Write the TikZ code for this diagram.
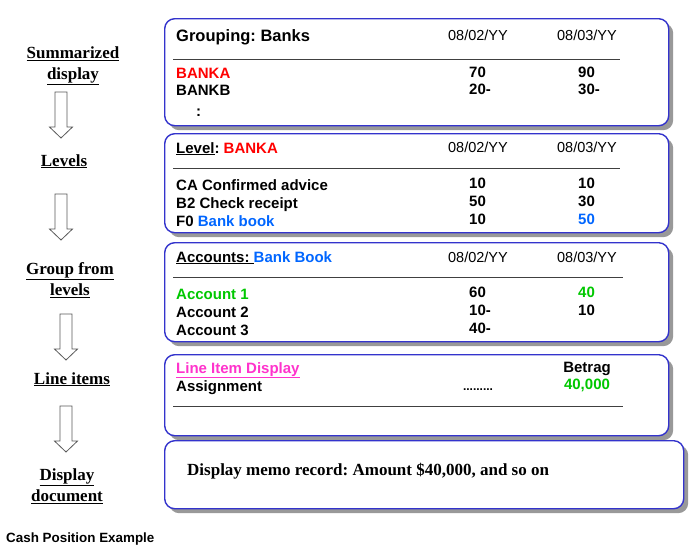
\documentclass[tikz,border=0pt]{standalone}
\usepackage{fontspec}
\setmainfont{Liberation Sans}
\newfontfamily\labelserif{Liberation Serif}
\usetikzlibrary{shadows}
\frenchspacing
\definecolor{frameblue}{RGB}{51,51,204}
\definecolor{shadowgray}{RGB}{153,153,153}
\definecolor{bankblue}{RGB}{0,102,255}
\definecolor{accgreen}{RGB}{0,200,0}
\definecolor{itemmagenta}{RGB}{255,51,204}

\begin{document}
\begin{tikzpicture}[x=1pt, y=-1pt,
    panel/.style={draw=frameblue, line width=1.4pt, rounded corners=10pt, fill=white,
                  anchor=north west, inner sep=0pt,
                  drop shadow={shadow xshift=4.5pt, shadow yshift=-4.5pt, fill=shadowgray, opacity=1}},
    stage/.style={font=\labelserif\bfseries\fontsize{17}{21}\selectfont, align=center, inner sep=0pt},
    row/.style={font=\bfseries\fontsize{15}{18}\selectfont, anchor=base west, inner sep=0pt},
    date/.style={font=\fontsize{14.5}{17}\selectfont, anchor=base, inner sep=0pt},
    sep/.style={draw=black!75, line width=0.9pt},
    blockdown/.pic={\draw[line width=0.8pt, draw=black!65, fill=white]
        (-6,0) -- (-6,35) -- (-11.5,35) -- (0,46) -- (11.5,35) -- (6,35) -- (6,0) -- cycle;}]
  \useasboundingbox (0,0) rectangle (691,552);

  % left column
  \node[stage] (summ) at (73,66) {\underline{Summarized}\\\underline{display}};
  \node[stage, anchor=base] (levels) at (64,166) {\underline{Levels}};
  \node[stage] (group) at (70,280) {\underline{Group from}\\\underline{levels}};
  \node[stage, anchor=base] (items) at (72,384) {\underline{Line items}};
  \node[stage] (docu) at (67,486) {\underline{Display}\\\underline{document}};
  \pic at (61,92)  {blockdown};
  \pic at (61,194) {blockdown};
  \pic at (66,314) {blockdown};
  \pic at (66,406) {blockdown};

  % grouping
  \node[panel, minimum width=504pt, minimum height=107pt] (grp) at (164,18) {};
  \node[row, font=\bfseries\fontsize{16.5}{20}\selectfont] (grptitle) at (176,41) {Grouping: Banks};
  \node[date] (grpd1) at (478,40) {08/02/YY};
  \node[date] (grpd2) at (587,40) {08/03/YY};
  \draw[sep] (173,59) -- (620,59);
  \node[row, text=red] (banka) at (176,78) {BANKA};
  \node[row] (bankb) at (176,95) {BANKB};
  \node[row] (more) at (196,116) {:};
  \node[row] (banka1) at (469,77) {70};
  \node[row] (banka2) at (578,77) {90};
  \node[row] (bankb1) at (469,94) {20-};
  \node[row] (bankb2) at (578,94) {30-};

  % level
  \node[panel, minimum width=504pt, minimum height=99pt] (lvl) at (164,133) {};
  \node[row] (lvltitle) at (176,153) {\underline{Level}: \textcolor{red}{BANKA}};
  \node[date] (lvld1) at (478,152) {08/02/YY};
  \node[date] (lvld2) at (587,152) {08/03/YY};
  \draw[sep] (173,168) -- (620,168);
  \node[row] (ca) at (176,190) {CA Confirmed advice};
  \node[row] (btwo) at (176,208) {B2 Check receipt};
  \node[row] (fnull) at (176,226) {F0 \textcolor{bankblue}{Bank book}};
  \node[row] (ca1) at (469,188) {10};
  \node[row] (ca2) at (578,188) {10};
  \node[row] (btwo1) at (469,206) {50};
  \node[row] (btwo2) at (578,206) {30};
  \node[row] (fnull1) at (469,224) {10};
  \node[row, text=bankblue] (fnull2) at (578,224) {50};

  % accounts
  \node[panel, minimum width=504pt, minimum height=99pt] (acc) at (164,242) {};
  \node[row] (acctitle) at (176,262) {\underline{Accounts:\ }\textcolor{bankblue}{Bank Book}};
  \node[date] (accd1) at (478,262) {08/02/YY};
  \node[date] (accd2) at (587,262) {08/03/YY};
  \draw[sep] (173,277) -- (623,277);
  \node[row, text=accgreen] (accone) at (176,299) {Account 1};
  \node[row] (acctwo) at (176,317) {Account 2};
  \node[row] (accthree) at (176,335) {Account 3};
  \node[row] (accone1) at (469,297) {60};
  \node[row, text=accgreen] (accone2) at (578,297) {40};
  \node[row] (acctwo1) at (469,315) {10-};
  \node[row] (acctwo2) at (578,315) {10};
  \node[row] (accthree1) at (469,333) {40-};

  % line items
  \node[panel, minimum width=504pt, minimum height=81pt] (itm) at (164,354) {};
  \node[row, text=itemmagenta] (itmtitle) at (176,373) {\underline{Line Item Display}};
  \node[row] (assign) at (176,391) {Assignment};
  \node[date, font=\bfseries\fontsize{12}{14}\selectfont] (dots) at (478,390) {.........};
  \node[row, anchor=base] (betrag) at (587,372) {Betrag};
  \node[row, anchor=base, text=accgreen] (amount) at (587,389) {40,000};
  \draw[sep] (173,406) -- (623,406);

  % document
  \node[panel, minimum width=519pt, minimum height=68pt] (doc) at (164,440) {};
  \node[font=\labelserif\bfseries\fontsize{17}{21}\selectfont, anchor=base west, inner sep=0pt]
        (memo) at (187,475) {Display memo record: Amount \$40,000, and so on};

  \node[font=\bfseries\fontsize{13.4}{16}\selectfont, anchor=base west, inner sep=0pt]
        (caption) at (6,542) {Cash Position Example};
\end{tikzpicture}
\end{document}
